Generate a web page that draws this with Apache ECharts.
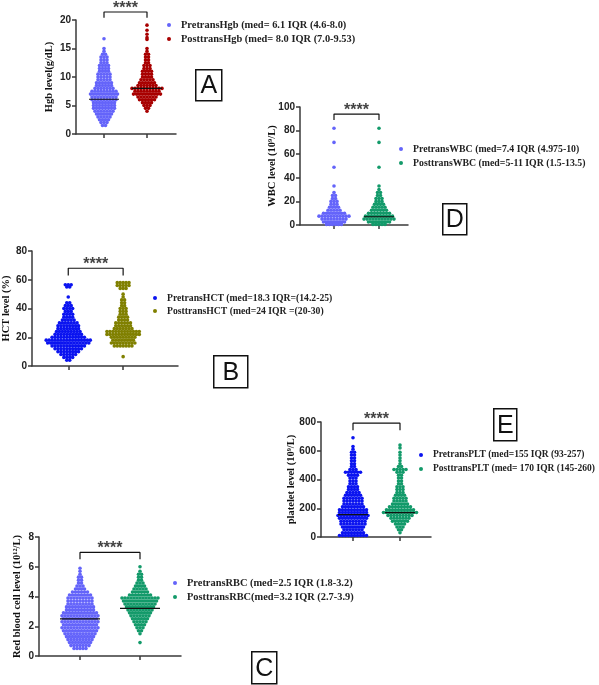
<!DOCTYPE html>
<html><head><meta charset="utf-8">
<script src="https://cdn.jsdelivr.net/npm/echarts@6/dist/echarts.min.js"></script>
<style>html,body{margin:0;padding:0;background:#fff}#c{width:599px;height:685px}</style>
</head><body><div id="c"></div>
<script>
// ---------------- DATA (value bins, count of dots per bin) -------------
const groupNames = ['Pretrans', 'Posttrans'];

// A: Hgb (g/dL)
const hgbPreLevels  = [1.5,2,2.5,3,3.5,4,4.5,5,5.5,6,6.5,7,7.5,8,8.5,9,9.5,10,10.5,11,11.5,12,12.5,13,13.5,14,14.5,15,16.7];
const hgbPreCounts  = [2,3,4,5,6,7,8,8,8,9,9,10,9,7,6,6,5,5,5,4,4,4,3,3,3,2,1,1,1];
const hgbPostLevels = [4,4.5,5,5.5,6,6.5,7,7.5,8,8.5,9,9.5,10,10.5,11,11.5,12,12.5,13,13.5,14,14.5,15,16.6,16.9,17.5,18.2,19.1];
const hgbPostCounts = [1,2,3,4,6,7,10,9,11,7,6,5,4,4,4,3,3,2,2,2,2,1,1,1,1,1,1,1];
const hgbMedians = [6.1, 8.0];
const hgbLegend = ['PretransHgb (med= 6.1 IQR (4.6-8.0)', 'PosttransHgb (med= 8.0 IQR (7.0-9.53)'];

// D: WBC (10^9/L)
const wbcPreLevels  = [0.5,2.5,5,7.5,10,12.5,15,17.5,20,22.5,25,27.5,33,49,70,82];
const wbcPreCounts  = [6,8,9,11,8,5,4,3,3,2,2,1,1,1,1,1];
const wbcPostLevels = [0.5,2.5,5,7.5,10,12.5,15,17.5,20,22.5,25,27.5,30,33,49,70,82];
const wbcPostCounts = [5,8,11,10,8,6,5,4,3,3,2,2,1,1,1,1,1];
const wbcMedians = [null, 7.0];
const wbcLegend = ['PretransWBC (med=7.4 IQR (4.975-10)', 'PosttransWBC (med=5-11 IQR (1.5-13.5)'];

// B: HCT (%)
const hctPreLevels  = [4,6,8,10,12,14,16,18,20,22,24,26,28,30,32,34,36,38,40,42,44,48,55,56.5];
const hctPreCounts  = [2,4,6,8,10,12,15,16,12,10,9,8,8,7,5,4,4,3,4,3,2,1,2,3];
const hctPostLevels = [6.5,14,16,18,20,22,24,26,28,30,32,34,36,38,40,42,44,46,48,50,54,56,58];
const hctPostCounts = [1,7,9,8,9,12,12,7,6,6,4,4,3,3,3,2,2,2,1,1,3,5,5];
const hctMedians = [null, null];
const hctLegend = ['PretransHCT (med=18.3 IQR=(14.2-25)', 'PosttransHCT (med=24 IQR =(20-30)'];

// E: PLT (10^9/L)
const pltPreLevels  = [10,30,50,70,90,110,130,150,170,190,210,230,250,270,290,310,330,350,370,390,410,430,450,470,490,510,530,550,570,590,610,630,690];
const pltPreCounts  = [10,8,7,8,9,9,10,11,10,10,8,7,7,7,6,5,4,4,3,3,3,4,6,3,2,2,2,2,2,2,1,1,1];
const pltPostLevels = [30,50,70,90,110,130,150,170,190,210,230,250,270,290,310,330,350,370,390,410,430,450,470,490,510,530,550,570,590,620,640];
const pltPostCounts = [1,2,3,4,6,7,9,12,10,8,6,5,5,4,3,3,3,2,2,2,2,3,5,2,1,1,1,1,1,1,1];
const pltMedians = [155, 170];
const pltLegend = ['PretransPLT (med=155 IQR (93-257)', 'PosttransPLT (med= 170 IQR (145-260)'];

// C: RBC (10^12/L)
const rbcPreLevels  = [0.5,0.7,0.9,1.1,1.3,1.5,1.7,1.9,2.1,2.3,2.5,2.7,2.9,3.1,3.3,3.5,3.7,3.9,4.1,4.3,4.5,4.7,4.9,5.1,5.3,5.5,5.7,5.9];
const rbcPreCounts  = [5,7,8,9,10,11,12,13,12,13,12,13,12,10,10,9,9,9,8,6,4,3,2,2,2,1,1,1];
const rbcPostLevels = [0.9,1.5,1.7,1.9,2.1,2.3,2.5,2.7,2.9,3.1,3.3,3.5,3.7,3.9,4.1,4.3,4.5,4.7,4.9,5.1,5.3,5.5,5.7,6.0];
const rbcPostCounts = [1,1,2,3,4,5,6,7,8,9,10,11,12,13,8,6,5,4,3,2,2,2,1,1];
const rbcMedians = [2.5, 3.2];
const rbcLegend = ['PretransRBC (med=2.5 IQR (1.8-3.2)', 'PosttransRBC(med=3.2 IQR (2.7-3.9)'];

// y-axis tick settings
const yMax = {A:20, D:100, B:80, E:800, C:8};
const yInterval = {A:5, D:20, B:20, E:200, C:2};
const yNames = {A:'Hgb level(g/dL)', D:'WBC level (10\u2079/L)', B:'HCT level (%)', E:'platelet level (10\u2079/L)', C:'Red blood cell level (10\u00b9\u00b2/L)'};
const panelLetters = ['A','D','B','E','C'];

// ---------------- LAYOUT ----------------
const panels = [
  {key:'A', L:76, T:20, W:100, H:114, c1:104, c2:147, gap:21, pre:[hgbPreLevels,hgbPreCounts], post:[hgbPostLevels,hgbPostCounts],
   colors:['#6464fa','#a80000'], med:hgbMedians, medPx:15, legend:hgbLegend, legL:167, legT:19, legGap:2, legFont:10.4,
   br:[20.4,21.4], box:[195,69,26,31], dot:3},
  {key:'D', L:300, T:107, W:108, H:118, c1:334, c2:379, gap:22, pre:[wbcPreLevels,wbcPreCounts], post:[wbcPostLevels,wbcPostCounts],
   colors:['#6464fa','#139a6a'], med:wbcMedians, medPx:15, legend:wbcLegend, legL:399, legT:143, legGap:2, legFont:9.8,
   br:[89,94], box:[442,203,24,31], dot:3},
  {key:'B', L:29, T:251, W:149, H:115, c1:66, c2:122, gap:20, pre:[hctPreLevels,hctPreCounts], post:[hctPostLevels,hctPostCounts],
   colors:['#0b14f0','#808000'], med:hctMedians, medPx:15, legend:hctLegend, legL:153, legT:292, legGap:1, legFont:9.7,
   br:[63,68], box:[213,355,34,32], dot:3},
  {key:'E', L:321, T:422, W:110, H:115, c1:353, c2:400, gap:24, pre:[pltPreLevels,pltPreCounts], post:[pltPostLevels,pltPostCounts],
   colors:['#0b14f0','#139a6a'], med:pltMedians, medPx:15, legend:pltLegend, legL:419, legT:449, legGap:2, legFont:9.5,
   br:[743,792], box:[493,408,23,32], dot:3},
  {key:'C', L:39, T:537, W:142, H:119, c1:80, c2:140, gap:16, pre:[rbcPreLevels,rbcPreCounts], post:[rbcPostLevels,rbcPostCounts],
   colors:['#6464fa','#139a6a'], med:rbcMedians, medPx:20, legend:rbcLegend, legL:173, legT:577, legGap:2, legFont:10.4,
   br:[6.5,6.96], box:[251,651,25,32], dot:3}
];

function swarm(levels, counts, center, spacing) {
  const pts = [];
  levels.forEach((v, i) => {
    const n = counts[i];
    for (let k = 0; k < n; k++) pts.push([center + (k - (n - 1) / 2) * spacing, v]);
  });
  return pts;
}

const grids = [], xAxes = [], yAxes = [], series = [], legends = [], graphics = [];
const axisColor = '#3a3a3a';
panels.forEach((p, i) => {
  const unit = p.c2 - p.c1;
  const xmin = 1 - (p.c1 - p.L) / unit;
  const xmax = 2 + (p.L + p.W - p.c2) / unit;
  const sp = p.dot / unit;
  grids.push({left:p.L, top:p.T, width:p.W, height:p.H, containLabel:false});
  xAxes.push({gridIndex:i, type:'value', min:xmin, max:xmax,
    axisLine:{show:true, onZero:false, lineStyle:{color:axisColor, width:1.5}},
    axisTick:{show:true, customValues:[1,2], length:4, lineStyle:{color:axisColor, width:1.5}},
    axisLabel:{show:false}, splitLine:{show:false}});
  yAxes.push({gridIndex:i, type:'value', min:0, max:yMax[p.key], interval:yInterval[p.key],
    name:yNames[p.key], nameLocation:'middle', nameGap:p.gap, nameRotate:90, nameMoveOverlap:false,
    nameTextStyle:{fontFamily:'Liberation Serif', fontWeight:'bold', fontSize:10.5, color:'#111'},
    axisLine:{show:true, lineStyle:{color:axisColor, width:1.5}},
    axisTick:{show:true, length:4, lineStyle:{color:axisColor, width:1.5}},
    axisLabel:{fontFamily:'Liberation Sans', fontWeight:'bold', fontSize:10, color:'#222', margin:5},
    splitLine:{show:false}});
  [p.pre, p.post].forEach((g, j) => {
    series.push({type:'scatter', name:p.legend[j], xAxisIndex:i, yAxisIndex:i, symbol:'circle', symbolSize:3.6,
      itemStyle:{color:p.colors[j], opacity:1}, data:swarm(g[0], g[1], j + 1, sp), silent:true, z:2});
    if (p.med[j] != null) {
      const h = p.medPx / unit;
      series.push({type:'line', name:'med' + i + j, xAxisIndex:i, yAxisIndex:i, symbol:'none', z:4,
        lineStyle:{color:'#111', width:1.2}, data:[[j + 1 - h, p.med[j]], [j + 1 + h, p.med[j]]], silent:true});
    }
  });
  series.push({type:'line', name:'br' + i, xAxisIndex:i, yAxisIndex:i, symbol:'none', clip:false, z:4,
    lineStyle:{color:'#111', width:1.2}, data:[[1, p.br[0]], [1, p.br[1]], [2, p.br[1]], [2, p.br[0]]], silent:true});
  series.push({type:'scatter', name:'st' + i, xAxisIndex:i, yAxisIndex:i, symbolSize:1, clip:false, z:5,
    itemStyle:{color:'rgba(0,0,0,0)'}, data:[[1.5, p.br[1]]], silent:true,
    label:{show:true, formatter:'****', position:'top', distance:-5, fontFamily:'Liberation Sans', fontWeight:'bold', fontSize:16, color:'#111'}});
  legends.push({data:p.legend.map(n => ({name:n, icon:'circle'})), orient:'vertical', left:p.legL, top:p.legT,
    itemWidth:14, itemHeight:4, itemGap:p.legGap, padding:0, selectedMode:false,
    textStyle:{fontFamily:'Liberation Serif', fontWeight:'bold', fontSize:p.legFont, color:'#222', lineHeight:12}});
  graphics.push({type:'group', left:p.box[0], top:p.box[1], children:[
    {type:'rect', shape:{x:0, y:0, width:p.box[2], height:p.box[3]}, style:{fill:'#fff', stroke:'#111', lineWidth:1.5}},
    {type:'text', x:p.box[2] / 2, y:p.box[3] / 2 + 1, style:{text:p.key, fontFamily:'Liberation Sans', fontSize:25, fill:'#111', align:'center', verticalAlign:'middle'}}
  ]});
});

const chart = echarts.init(document.getElementById('c'), null, {renderer:'canvas'});
chart.setOption({
  backgroundColor:'#fff', animation:false,
  grid:grids, xAxis:xAxes, yAxis:yAxes, series:series, legend:legends, graphic:graphics
});
</script></body></html>
